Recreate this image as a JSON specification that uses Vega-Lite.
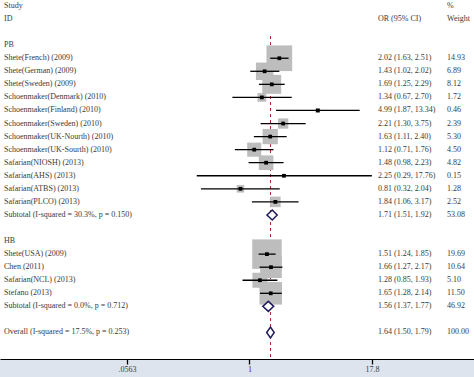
{
  "$schema": "https://vega.github.io/schema/vega-lite/v6.json",
  "width": 474,
  "height": 359,
  "autosize": "none",
  "padding": {"left": 0, "top": 0, "right": 0, "bottom": 18},
  "background": "#dde4ee",
  "config": {
    "view": {"fill": "white", "stroke": null},
    "font": "Liberation Serif",
    "axisX": {"grid": false, "domainColor": "black", "domainWidth": 1.2, "ticks": true, "tickColor": "black", "tickSize": 5, "tickWidth": 1.3, "labelFont": "Liberation Serif", "labelFontSize": 8, "labelColor": "#3a3a3a", "labelPadding": 1, "labelFlush": false, "title": null}
  },
  "data": {"values": [
    {"row": 0, "kind": "head", "label": "Study", "ci": "", "wt": "%"},
    {"row": 1, "kind": "head", "label": "ID", "ci": "OR (95% CI)", "wt": "Weight"},
    {"row": 3, "kind": "group", "label": "PB", "ci": "", "wt": ""},
    {"row": 4, "kind": "study", "label": "Shete(French) (2009)", "est": 2.02, "lo": 1.63, "hi": 2.51, "w": 14.93, "ci": "2.02 (1.63, 2.51)", "wt": "14.93"},
    {"row": 5, "kind": "study", "label": "Shete(German) (2009)", "est": 1.43, "lo": 1.02, "hi": 2.02, "w": 6.89, "ci": "1.43 (1.02, 2.02)", "wt": "6.89"},
    {"row": 6, "kind": "study", "label": "Shete(Sweden) (2009)", "est": 1.69, "lo": 1.25, "hi": 2.29, "w": 8.12, "ci": "1.69 (1.25, 2.29)", "wt": "8.12"},
    {"row": 7, "kind": "study", "label": "Schoenmaker(Denmark) (2010)", "est": 1.34, "lo": 0.67, "hi": 2.70, "w": 1.72, "ci": "1.34 (0.67, 2.70)", "wt": "1.72"},
    {"row": 8, "kind": "study", "label": "Schoenmaker(Finland) (2010)", "est": 4.99, "lo": 1.87, "hi": 13.34, "w": 0.46, "ci": "4.99 (1.87, 13.34)", "wt": "0.46"},
    {"row": 9, "kind": "study", "label": "Schoenmaker(Sweden) (2010)", "est": 2.21, "lo": 1.30, "hi": 3.75, "w": 2.39, "ci": "2.21 (1.30, 3.75)", "wt": "2.39"},
    {"row": 10, "kind": "study", "label": "Schoenmaker(UK-Nourth) (2010)", "est": 1.63, "lo": 1.11, "hi": 2.40, "w": 5.30, "ci": "1.63 (1.11, 2.40)", "wt": "5.30"},
    {"row": 11, "kind": "study", "label": "Schoenmaker(UK-Sourth) (2010)", "est": 1.12, "lo": 0.71, "hi": 1.76, "w": 4.50, "ci": "1.12 (0.71, 1.76)", "wt": "4.50"},
    {"row": 12, "kind": "study", "label": "Safarian(NIOSH) (2013)", "est": 1.48, "lo": 0.98, "hi": 2.23, "w": 4.82, "ci": "1.48 (0.98, 2.23)", "wt": "4.82"},
    {"row": 13, "kind": "study", "label": "Safarian(AHS) (2013)", "est": 2.25, "lo": 0.29, "hi": 17.76, "w": 0.15, "ci": "2.25 (0.29, 17.76)", "wt": "0.15"},
    {"row": 14, "kind": "study", "label": "Safarian(ATBS) (2013)", "est": 0.81, "lo": 0.32, "hi": 2.04, "w": 1.28, "ci": "0.81 (0.32, 2.04)", "wt": "1.28"},
    {"row": 15, "kind": "study", "label": "Safarian(PLCO) (2013)", "est": 1.84, "lo": 1.06, "hi": 3.17, "w": 2.52, "ci": "1.84 (1.06, 3.17)", "wt": "2.52"},
    {"row": 16, "kind": "sub", "group": "PB", "label": "Subtotal (I-squared = 30.3%, p = 0.150)", "est": 1.71, "lo": 1.51, "hi": 1.92, "w": 53.08, "ci": "1.71 (1.51, 1.92)", "wt": "53.08"},
    {"row": 18, "kind": "group", "label": "HB", "ci": "", "wt": ""},
    {"row": 19, "kind": "study", "label": "Shete(USA) (2009)", "est": 1.51, "lo": 1.24, "hi": 1.85, "w": 19.69, "ci": "1.51 (1.24, 1.85)", "wt": "19.69"},
    {"row": 20, "kind": "study", "label": "Chen (2011)", "est": 1.66, "lo": 1.27, "hi": 2.17, "w": 10.64, "ci": "1.66 (1.27, 2.17)", "wt": "10.64"},
    {"row": 21, "kind": "study", "label": "Safarian(NCL) (2013)", "est": 1.28, "lo": 0.85, "hi": 1.93, "w": 5.10, "ci": "1.28 (0.85, 1.93)", "wt": "5.10"},
    {"row": 22, "kind": "study", "label": "Stefano (2013)", "est": 1.65, "lo": 1.28, "hi": 2.14, "w": 11.50, "ci": "1.65 (1.28, 2.14)", "wt": "11.50"},
    {"row": 23, "kind": "sub", "group": "HB", "label": "Subtotal (I-squared = 0.0%, p = 0.712)", "est": 1.56, "lo": 1.37, "hi": 1.77, "w": 46.92, "ci": "1.56 (1.37, 1.77)", "wt": "46.92"},
    {"row": 25, "kind": "overall", "group": "Overall", "label": "Overall (I-squared = 17.5%, p = 0.253)", "est": 1.64, "lo": 1.50, "hi": 1.79, "w": 100.0, "ci": "1.64 (1.50, 1.79)", "wt": "100.00"}
  ]},
  "encoding": {
    "y": {"field": "row", "type": "quantitative", "scale": {"domain": [-0.459, 27.03], "reverse": true, "nice": false, "zero": false}, "axis": null}
  },
  "layer": [
    {
      "data": {"values": [{}]},
      "mark": {"type": "rule", "color": "#c8c8c8", "strokeWidth": 1.5},
      "encoding": {"y": {"datum": 2.3, "type": "quantitative"}}
    },
    {
      "data": {"values": [{}]},
      "mark": {"type": "rule", "color": "black", "strokeWidth": 1.5},
      "encoding": {
        "x": {"datum": 1, "type": "quantitative",
              "scale": {"type": "log", "domain": [0.002849, 195.8], "nice": false},
              "axis": {"values": [0.0563, 1, 17.8], "labelExpr": "replace(format(datum.value, '~g'), '0.', '.')"}},
        "y": {"datum": 2.3, "type": "quantitative"},
        "y2": {"datum": 27.03}
      }
    },
    {
      "transform": [{"filter": "datum.kind == 'overall'"}],
      "mark": {"type": "rule", "color": "#b22222", "strokeWidth": 1, "strokeDash": [3, 3]},
      "encoding": {
        "x": {"field": "est", "type": "quantitative", "scale": {"type": "log", "domain": [0.002849, 195.8], "nice": false}},
        "y": {"datum": 2.3, "type": "quantitative"},
        "y2": {"datum": 27.03}
      }
    },
    {
      "transform": [{"filter": "datum.kind == 'study'"}],
      "mark": {"type": "square", "filled": true, "color": "#bdbdbd", "opacity": 1},
      "encoding": {
        "x": {"field": "est", "type": "quantitative", "scale": {"type": "log", "domain": [0.002849, 195.8], "nice": false}},
        "size": {"field": "w", "type": "quantitative", "scale": {"type": "linear", "domain": [0, 19.69], "range": [0, 870], "zero": true}, "legend": null}
      }
    },
    {
      "transform": [{"filter": "datum.kind == 'study'"}],
      "mark": {"type": "rule", "color": "black", "strokeWidth": 1.3},
      "encoding": {
        "x": {"field": "lo", "type": "quantitative", "scale": {"type": "log", "domain": [0.002849, 195.8], "nice": false}},
        "x2": {"field": "hi"}
      }
    },
    {
      "transform": [{"filter": "datum.kind == 'study'"}],
      "mark": {"type": "square", "filled": true, "color": "black", "size": 14, "opacity": 1},
      "encoding": {
        "x": {"field": "est", "type": "quantitative", "scale": {"type": "log", "domain": [0.002849, 195.8], "nice": false}}
      }
    },
    {
      "transform": [{"filter": "datum.kind == 'sub' || datum.kind == 'overall'"}],
      "mark": {"type": "point", "filled": true, "fill": "white", "stroke": "#221c5e", "strokeWidth": 1.5, "size": 100, "opacity": 1},
      "encoding": {
        "x": {"field": "est", "type": "quantitative", "scale": {"type": "log", "domain": [0.002849, 195.8], "nice": false}},
        "shape": {"field": "group", "type": "nominal", "legend": null,
                  "scale": {"domain": ["PB", "HB", "Overall"],
                            "range": ["M-1.06,0L0,-1L0.99,0L0,1Z", "M-1.11,0L0,-1L1.07,0L0,1Z", "M-0.76,0L0,-1.1L0.75,0L0,1.1Z"]}}
      }
    },
    {
      "mark": {"type": "text", "align": "left", "baseline": "middle", "fontSize": 8, "color": "#3a3a3a", "font": "Liberation Serif"},
      "encoding": {
        "x": {"datum": 0.003131, "type": "quantitative", "scale": {"type": "log", "domain": [0.002849, 195.8], "nice": false}},
        "text": {"field": "label"}
      }
    },
    {
      "mark": {"type": "text", "align": "left", "baseline": "middle", "fontSize": 8, "color": "#3a3a3a", "font": "Liberation Serif"},
      "encoding": {
        "x": {"datum": 20.52, "type": "quantitative", "scale": {"type": "log", "domain": [0.002849, 195.8], "nice": false}},
        "text": {"field": "ci"}
      }
    },
    {
      "mark": {"type": "text", "align": "left", "baseline": "middle", "fontSize": 8, "color": "#3a3a3a", "font": "Liberation Serif"},
      "encoding": {
        "x": {"datum": 103.9, "type": "quantitative", "scale": {"type": "log", "domain": [0.002849, 195.8], "nice": false}},
        "text": {"field": "wt"}
      }
    }
  ]
}
